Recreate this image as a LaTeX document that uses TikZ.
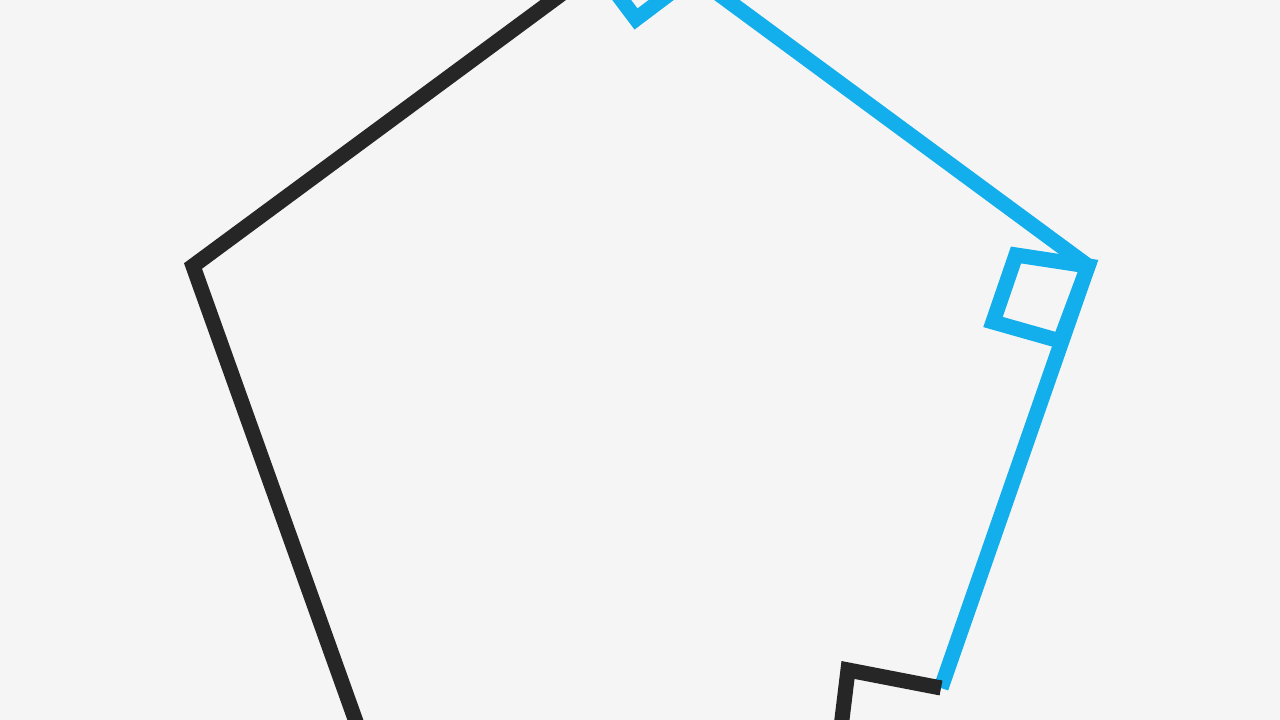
\documentclass[tikz,border=0pt]{standalone}
\usepackage{tikz}
\usetikzlibrary{calc}

\definecolor{sideblue}{RGB}{18,175,236}
\definecolor{sideblack}{RGB}{38,38,38}
\definecolor{paper}{RGB}{245,245,245}

\begin{document}
\begin{tikzpicture}[line width=4.3pt, line join=miter]
    \fill[paper] (0,0) rectangle (12.8,7.2);
    \useasboundingbox (0,0) rectangle (12.8,7.2);
    \clip (0,0) rectangle (12.8,7.2);
    
    \coordinate (vert_top) at (6.40,7.84);
    \coordinate (vert_left) at (1.93,4.54);
    \coordinate (vert_right) at (10.88,4.54);
    \coordinate (foot_left) at (3.84,-0.80);
    \coordinate (side_end) at (9.41,0.32);
    
    \coordinate (box_a) at (10.60,3.79);
    \coordinate (box_b) at (9.93,3.98);
    \coordinate (box_c) at (10.16,4.65);
    
    \coordinate (mark_corner) at (8.48,0.50);
    \coordinate (mark_end) at (8.37,-0.40);
    
    \draw[sideblack] (foot_left) -- (vert_left) -- (vert_top);
    
    \draw[sideblue] (vert_top) -- (vert_right) -- (side_end);
    
    \draw[sideblue, shift={(6.36,7.01)}, rotate=37] (0,0) rectangle (0.72,0.72);
    
    \draw[sideblue] (vert_right) -- (box_a) -- (box_b) -- (box_c) -- cycle;
    
    \draw[sideblack] (side_end) -- (mark_corner) -- (mark_end);
    
\end{tikzpicture}
\end{document}
